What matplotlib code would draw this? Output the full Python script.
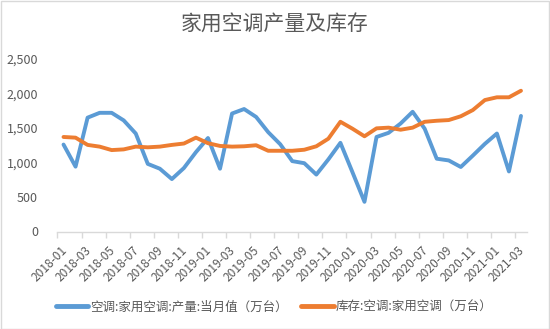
import matplotlib
matplotlib.use("Agg")
import matplotlib.pyplot as plt
import matplotlib.transforms as mtransforms
from matplotlib.patches import Rectangle

plt.rcParams['font.family'] = ['Noto Sans CJK SC', 'DejaVu Sans']

months = [f"{y}-{m:02d}" for y in (2018, 2019, 2020, 2021) for m in range(1, 13)][:39]

production = [1260, 940, 1650, 1720, 1720, 1610, 1420, 980, 910, 760,
              920, 1150, 1355, 910, 1710, 1775, 1660, 1440, 1265, 1020,
              990, 825, 1045, 1285, 860, 430, 1370, 1430, 1565, 1735,
              1490, 1055, 1030, 935, 1100, 1270, 1420, 870, 1675]
inventory = [1370, 1360, 1255, 1230, 1180, 1190, 1230, 1220, 1230, 1255,
             1275, 1360, 1280, 1240, 1230, 1235, 1250, 1170, 1170, 1170,
             1185, 1235, 1345, 1590, 1490, 1380, 1495, 1505, 1475, 1505,
             1590, 1605, 1615, 1670, 1760, 1905, 1945, 1945, 2040]

label_prod = "空调:家用空调:产量:当月值（万台）"
label_inv = "库存:空调:家用空调（万台）"
title = "家用空调产量及库存"
yticks = [0, 500, 1000, 1500, 2000, 2500]

W, H = 550, 329
fig = plt.figure(figsize=(W / 100, H / 100), dpi=100)
fig.patches.append(Rectangle((0.5 / W, 0.5 / H), 1 - 1.5 / W, 1 - 1.5 / H,
                             transform=fig.transFigure, fill=False,
                             edgecolor='#D9D9D9', linewidth=1))

ax = fig.add_axes([57.5 / W, 1 - 231.5 / H, (527 - 57.5) / W, (231.5 - 59) / H])
x = list(range(len(months)))
ax.plot(x, production, color='#5B9BD5', linewidth=2.8, solid_capstyle='round',
        solid_joinstyle='round', label=label_prod)
ax.plot(x, inventory, color='#ED7D31', linewidth=2.8, solid_capstyle='round',
        solid_joinstyle='round', label=label_inv)

ax.set_xlim(-0.5, len(months) - 0.5)
ax.set_ylim(0, 2500)
for s in ('top', 'right', 'left'):
    ax.spines[s].set_visible(False)
ax.spines['bottom'].set_color('#D9D9D9')
ax.spines['bottom'].set_linewidth(1)

ax.set_yticks(yticks)
ax.set_yticklabels([f"{v:,}" for v in yticks])
ax.tick_params(axis='y', length=0, pad=14, labelsize=9, labelcolor='#595959')

# category boundary ticks every two months
ax.set_xticks([i - 0.5 for i in range(0, len(months), 2)], minor=True)
ax.tick_params(axis='x', which='minor', length=4, color='#D9D9D9', width=1)
ax.set_xticks(list(range(0, len(months), 2)))
ax.set_xticklabels(months[::2], rotation=45, ha='right', va='top',
                   rotation_mode='anchor')
ax.tick_params(axis='x', which='major', length=0, pad=9, labelsize=8.6,
               labelcolor='#595959')
off = mtransforms.ScaledTranslation(-3 / 100, 0, fig.dpi_scale_trans)
for lab in ax.get_xticklabels():
    lab.set_transform(lab.get_transform() + off)

fig.text(0.5, 1 - 25 / H, title, ha='center', va='center', fontsize=15,
         color='#595959')

leg = fig.legend(loc='center', bbox_to_anchor=(274 / W, 1 - 307 / H), ncol=2,
                 frameon=False, fontsize=9, handlelength=2.6, handletextpad=0.15,
                 columnspacing=1.1, labelcolor='#595959')
for l in leg.get_lines():
    l.set_linewidth(3.5)

fig.savefig('out.png', dpi=100)
